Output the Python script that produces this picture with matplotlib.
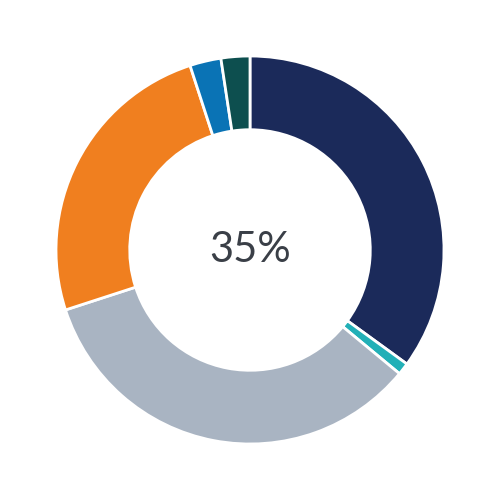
import matplotlib
matplotlib.use("Agg")
import matplotlib.pyplot as plt

labels = ["A", "B", "C", "D", "E", "F"]
values = [35, 1, 34, 25, 2.6, 2.4]
colors = ["#1b2a5a", "#22b0b7", "#a9b4c2", "#f07f1f", "#0a73b5", "#0d4f4f"]
center_text = "35%"

fig = plt.figure(figsize=(5, 5), dpi=100)
ax = fig.add_axes([0, 0, 1, 1])
ax.pie(values, colors=colors, startangle=90, counterclock=False,
       wedgeprops=dict(width=0.38, edgecolor="white", linewidth=2))
ax.text(0, 0, center_text, ha="center", va="center", fontsize=30,
        color="#3a3f47", family="Lato")
lim = 250 / 194
ax.set_xlim(-lim, lim)
ax.set_ylim(-lim, lim)
ax.set_aspect("equal")
ax.axis("off")
fig.savefig("out.png", dpi=100)
